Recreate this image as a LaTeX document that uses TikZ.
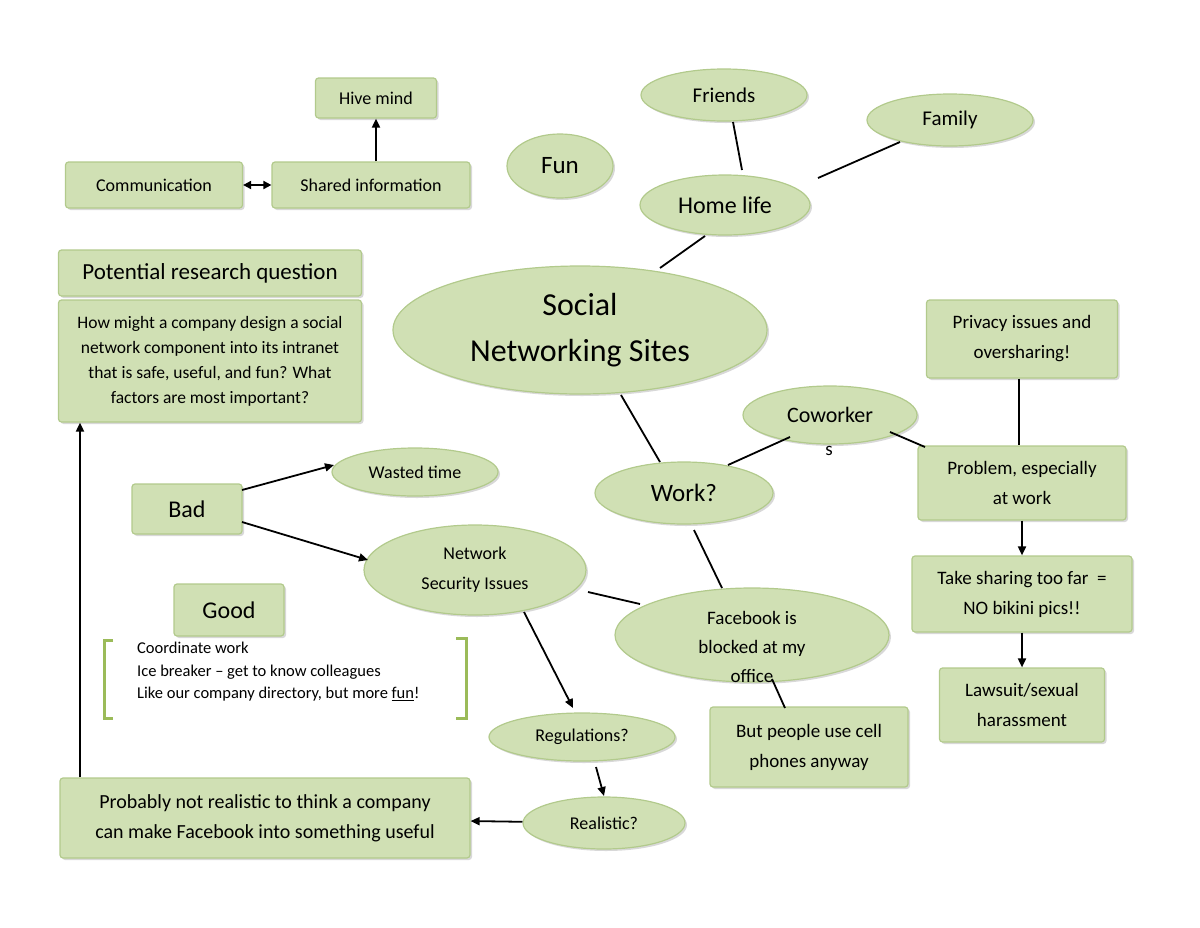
\documentclass[tikz,border=0pt]{standalone}
\usepackage{fontspec}
\setmainfont{Carlito}
\usetikzlibrary{shadows,arrows.meta,shapes.geometric}
\definecolor{gfill}{RGB}{208,224,180}
\definecolor{gline}{RGB}{178,202,140}
\definecolor{brk}{RGB}{155,187,89}
\begin{document}
\begin{tikzpicture}[x=1pt,y=-1pt,
  base/.style={fill=gfill,draw=gline,line width=1.2pt,
    drop shadow={shadow xshift=2pt,shadow yshift=-2pt,fill=black!30},
    align=center,inner sep=0pt,font=\fontsize{18}{22}\selectfont},
  box/.style={base,rounded corners=3pt,minimum width=#1},
  ell/.style={base,ellipse},
  ln/.style={line width=1.8pt},
  ar/.style={line width=1.8pt,-{Triangle[length=9pt,width=8pt]}}]
\useasboundingbox (0,0) rectangle (1200,927);
\node[box=121,minimum height=40] (hive) at (376,98) {Hive mind};
\node[box=198,minimum height=46] (share) at (371,185) {Shared information};
\node[box=177,minimum height=46] (comm) at (154,185) {Communication};
\node[ell,minimum width=106,minimum height=64,font=\fontsize{25}{28}\selectfont] (fun) at (560,166) {Fun};
\node[ell,minimum width=166,minimum height=52,font=\fontsize{21}{24}\selectfont] (friends) at (724,95) {Friends};
\node[ell,minimum width=166,minimum height=52,font=\fontsize{21}{24}\selectfont] (family) at (950,120) {Family};
\node[ell,minimum width=170,minimum height=60,font=\fontsize{24}{26}\selectfont] (home) at (725,205) {Home life};
\node[ell,minimum width=374,minimum height=128,font=\fontsize{32}{46}\selectfont] (sns) at (580,330) {Social\\Networking Sites};
\node[box=303,minimum height=46,font=\fontsize{23}{26}\selectfont] (prq) at (210,273) {Potential research question};
\node[box=303,minimum height=122,font=\fontsize{17.5}{25}\selectfont] (q) at (210,361) {How might a company design a social\\network component into its intranet\\that is safe, useful, and fun? What\\factors are most important?};
\node[box=191,minimum height=78,font=\fontsize{19}{30}\selectfont] (priv) at (1022,339) {Privacy issues and\\oversharing!};
\node[ell,minimum width=174,minimum height=58,font=\fontsize{22}{24}\selectfont] (cow) at (830,415) {Coworker};
\node[font=\fontsize{19}{20}\selectfont] (cows) at (829,451) {s};
\node[box=208,minimum height=74,font=\fontsize{19}{30}\selectfont] (prob) at (1022,483) {Problem, especially\\at work};
\node[ell,minimum width=178,minimum height=62,font=\fontsize{25}{28}\selectfont] (work) at (684,493) {Work?};
\node[ell,minimum width=166,minimum height=48] (waste) at (415,472) {Wasted time};
\node[box=110,minimum height=50,font=\fontsize{24}{26}\selectfont] (bad) at (187,509) {Bad};
\node[ell,minimum width=222,minimum height=90,font=\fontsize{18}{30}\selectfont] (net) at (475,570) {Network\\Security Issues};
\node[ell,minimum width=274,minimum height=94] (fb) at (752,635) {};
\node[font=\fontsize{19}{29}\selectfont,align=center,anchor=north] (fbt) at (752,608) {Facebook is\\blocked at my\\office};
\node[box=220,minimum height=76,font=\fontsize{19}{30}\selectfont] (take) at (1022,594) {Take sharing too far \ =\\NO bikini pics!!};
\node[box=165,minimum height=74,font=\fontsize{19}{30}\selectfont] (law) at (1022,705) {Lawsuit/sexual\\harassment};
\node[box=110,minimum height=52,font=\fontsize{24}{26}\selectfont] (good) at (229,610) {Good};
\node[anchor=north west,align=left,font=\fontsize{16.5}{22.5}\selectfont,inner sep=0pt] (list) at (137,642) {Coordinate work\\Ice breaker -- get to know colleagues\\Like our company directory, but more \underline{fun}!};
\draw[brk,line width=3pt] (113,640) -- (104,640) -- (104,718) -- (113,718);
\draw[brk,line width=3pt] (456,638) -- (466,638) -- (466,718) -- (456,718);
\node[ell,minimum width=186,minimum height=48] (reg) at (582,737) {Regulations?};
\node[box=198,minimum height=80,font=\fontsize{19}{30}\selectfont] (cell) at (809,747) {But people use cell\\phones anyway};
\node[ell,minimum width=162,minimum height=52] (real) at (604,823) {Realistic?};
\node[box=410,minimum height=80,font=\fontsize{20}{30}\selectfont] (prob2) at (265,818) {Probably not realistic to think a company\\can make Facebook into something useful};
% connectors
\draw[line width=1.8pt,{Triangle[length=8pt,width=8pt]}-{Triangle[length=8pt,width=8pt]}] (comm) -- (share);
\draw[ar] (share.north -| hive) -- (hive);
\draw[ln] (733,122) -- (742,170);
\draw[ln] (900,142) -- (818,178);
\draw[ln] (705,236) -- (660,268);
\draw[ln] (621,395) -- (660,462);
\draw[ln] (728,465) -- (790,437);
\draw[ln] (890,432) -- (925,447);
\draw[ln] (priv.south -| 1019,0) -- (prob.north -| 1019,0);
\draw[ar] (prob) -- (take);
\draw[ar] (take) -- (law);
\draw[ln] (694,530) -- (722,588);
\draw[ln] (588,592) -- (640,604);
\draw[ln] (772,679) -- (785,708);
\draw[ar] (242,490) -- (334,465);
\draw[ar] (242,522) -- (368,560);
\draw[ar] (524,612) -- (573,708);
\draw[ar] (596,767) -- (604,796);
\draw[ar] (real) -- (prob2);
\draw[ar] (prob2.north -| 80,0) -- (q.south -| 80,0);
\end{tikzpicture}
\end{document}
